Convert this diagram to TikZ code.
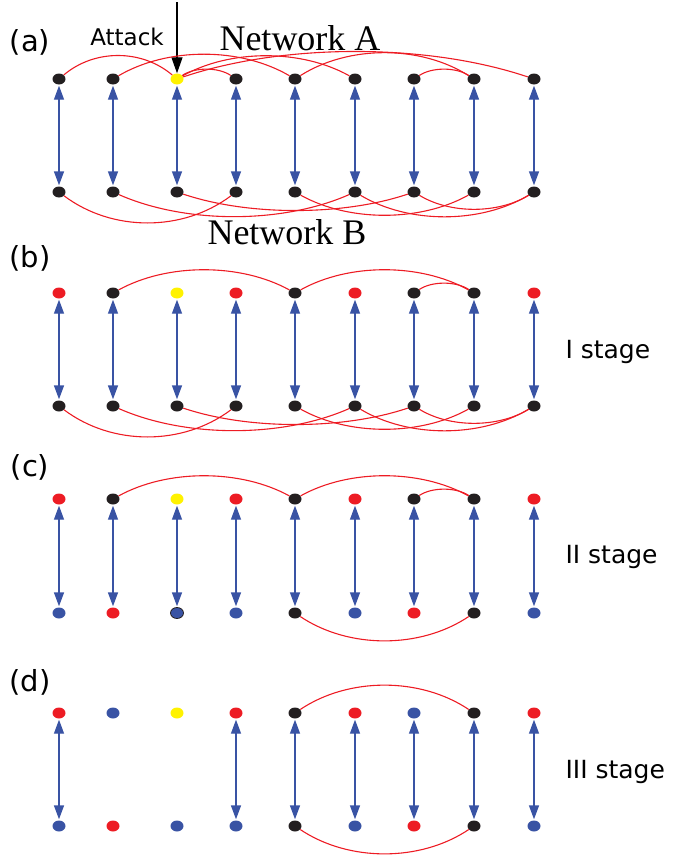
\documentclass[tikz,border=0pt]{standalone}
\usepackage{fontspec}
\setmainfont{Liberation Serif}
\newfontfamily\lab{DejaVu Sans}
\usetikzlibrary{arrows.meta,calc,shapes.geometric}
\definecolor{nk}{HTML}{231F20}
\definecolor{nb}{HTML}{3953A4}
\definecolor{nr}{HTML}{ED1C24}
\definecolor{ny}{HTML}{FFF200}
\tikzset{
 dot/.style={ellipse,inner sep=0pt,minimum width=13pt,minimum height=11pt,fill=#1},
 link/.style={draw=nr,line width=1.1pt},
 dep/.style={draw=nb,line width=1.4pt,{Triangle[length=14pt,width=10pt]}-{Triangle[length=14pt,width=10pt]},shorten <=1pt,shorten >=1pt},
 plab/.style={font=\lab\fontsize{29}{29}\selectfont},
 stg/.style={font=\lab\fontsize{25}{25}\selectfont,anchor=west},
}
\newcommand{\row}[3]{%
 \foreach \c [count=\i] in {#3} {
  \node[dot=\c] (#1\i) at ({\xpos{\i}},#2) {};
 }}
\newcommand{\xpos}[1]{ifthenelse(#1==1,59,ifthenelse(#1==2,113,ifthenelse(#1==3,177,ifthenelse(#1==4,236,ifthenelse(#1==5,295,ifthenelse(#1==6,355,ifthenelse(#1==7,414,ifthenelse(#1==8,474,534))))))))}
\newcommand{\up}[3]{\draw[link] (#1) .. controls ($(#1)!0.3!(#2)+(0,#3)$) and ($(#1)!0.7!(#2)+(0,#3)$) .. (#2);}
\newcommand{\dn}[3]{\draw[link] (#1) .. controls ($(#1)!0.3!(#2)+(0,-#3)$) and ($(#1)!0.7!(#2)+(0,-#3)$) .. (#2);}
\begin{document}
\begin{tikzpicture}[x=1pt,y=-1pt]
\useasboundingbox (0,0) rectangle (676,855);
% ---- (a)
\node[plab] (la) at (30,42) {(a)};
\node[font=\lab\fontsize{23}{23}\selectfont] (att) at (127,37) {Attack};
\node[font=\fontsize{36}{36}\selectfont] (na) at (300,38) {Network A};
\node[font=\fontsize{36}{36}\selectfont] (nbb) at (287,232) {Network B};
\row{A}{79}{nk,nk,ny,nk,nk,nk,nk,nk,nk}
\row{B}{192}{nk,nk,nk,nk,nk,nk,nk,nk,nk}
\coordinate (atop) at (177,2);
\draw[line width=1.2pt,-{Triangle[length=16pt,width=11pt]}] (atop) -- (A3.north);
\foreach \i in {1,...,9} \draw[dep] (A\i) -- (B\i);
\up{A1}{A3}{-30} \up{A3}{A4}{-12} \up{A3}{A6}{-30} \up{A3}{A9}{-36}
\up{A2}{A5}{-32} \up{A5}{A8}{-34} \up{A7}{A8}{-12}
\dn{B1}{B4}{-40} \dn{B2}{B6}{-32} \dn{B3}{B7}{-24} \dn{B5}{B8}{-30} \dn{B6}{B9}{-32} \dn{B7}{B9}{-22}
% ---- (b)
\node[plab] (lb) at (30,258) {(b)};
\node[stg] (s1) at (562,352) {I stage};
\row{C}{293}{nr,nk,ny,nr,nk,nr,nk,nk,nr}
\row{D}{406}{nk,nk,nk,nk,nk,nk,nk,nk,nk}
\foreach \i in {1,...,9} \draw[dep] (C\i) -- (D\i);
\up{C2}{C5}{-30} \up{C5}{C8}{-30} \up{C7}{C8}{-12}
\dn{D1}{D4}{-40} \dn{D2}{D6}{-32} \dn{D3}{D7}{-24} \dn{D5}{D8}{-30} \dn{D6}{D9}{-32} \dn{D7}{D9}{-22}
% ---- (c)
\node[plab] (lc) at (30,467) {(c)};
\node[stg] (s2) at (562,557) {II stage};
\row{E}{499}{nr,nk,ny,nr,nk,nr,nk,nk,nr}
\row{F}{613}{nb,nr,nb,nb,nk,nb,nr,nk,nb}
\draw[nk,line width=0.8pt] (F3) ellipse (6.5pt and 5.5pt);
\foreach \i in {1,...,9} \draw[dep] (E\i) -- (F\i);
\up{E2}{E5}{-30} \up{E5}{E8}{-30} \up{E7}{E8}{-12}
\dn{F5}{F8}{-36}
% ---- (d)
\node[plab] (ld) at (30,682) {(d)};
\node[stg] (s3) at (562,772) {III stage};
\row{G}{713}{nr,nb,ny,nr,nk,nr,nb,nk,nr}
\row{H}{826}{nb,nr,nb,nb,nk,nb,nr,nk,nb}
\foreach \i in {1,4,5,6,7,8,9} \draw[dep] (G\i) -- (H\i);
\up{G5}{G8}{-36}
\dn{H5}{H8}{-36}
\end{tikzpicture}
\end{document}
